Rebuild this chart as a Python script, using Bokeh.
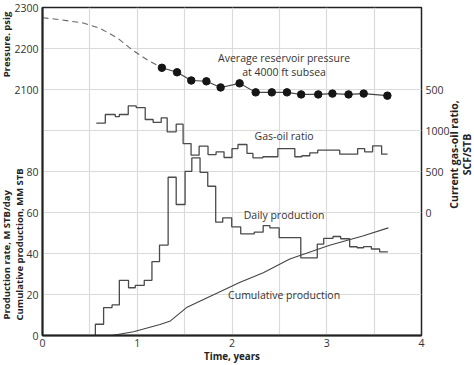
import math
from bokeh.plotting import figure
from bokeh.models import Range1d, LinearAxis, FixedTicker, Label, GridBox
from bokeh.embed import file_html
from bokeh.resources import INLINE

# ---------------- data ----------------
# average reservoir pressure (psig) -- dashed estimated part and measured points
press_curve_t = [0.0, 0.2, 0.43, 0.6, 0.79, 0.95, 1.1, 1.26]
press_curve_p = [2275, 2270, 2262, 2250, 2226, 2196, 2173, 2153]
press_t = [1.26, 1.42, 1.57, 1.73, 1.88, 2.08, 2.25, 2.42, 2.58, 2.73, 2.91, 3.06, 3.23, 3.39, 3.64]
press_p = [2153, 2142, 2122, 2120, 2105, 2115, 2093, 2093, 2093, 2088, 2088, 2090, 2088, 2090, 2085]

# gas-oil ratio (SCF/STB), monthly steps (start times)
gor_t = [0.568, 0.663, 0.768, 0.811, 0.905, 0.989, 1.084, 1.168, 1.253, 1.316, 1.411, 1.484,
         1.568, 1.653, 1.747, 1.832, 1.916, 2.0, 2.063, 2.158, 2.221, 2.326, 2.484, 2.663,
         2.737, 2.821, 2.905, 3.137, 3.326, 3.4, 3.484, 3.579]
gor_v = [1090, 1195, 1170, 1195, 1300, 1280, 1134, 1098, 1155, 984, 1077, 841,
         699, 809, 707, 740, 671, 780, 829, 720, 667, 680, 780, 680,
         692, 728, 760, 711, 780, 740, 813, 711]
gor_end = 3.642

# daily production (M STB/day), steps (start times)
rate_t = [0.558, 0.645, 0.734, 0.811, 0.908, 0.979, 1.074, 1.155, 1.235, 1.326, 1.411, 1.505,
          1.576, 1.663, 1.744, 1.828, 1.902, 1.997, 2.092, 2.235, 2.329, 2.4, 2.498, 2.726,
          2.9, 2.968, 3.066, 3.147, 3.242, 3.321, 3.389, 3.471, 3.558]
rate_v = [5.5, 13.6, 14.9, 26.9, 23.3, 24.5, 26.9, 36.0, 44.1, 77.2, 63.9, 80.1,
          86.6, 79.6, 72.8, 55.3, 57.4, 53.0, 49.6, 50.4, 53.6, 52.5, 47.7, 37.9,
          44.6, 47.4, 48.3, 47.2, 43.3, 42.8, 43.4, 42.2, 40.8]
rate_end = 3.645

# cumulative production (MM STB)
cum_t = [0.73, 0.96, 1.24, 1.35, 1.52, 1.80, 2.08, 2.33, 2.61, 3.03, 3.38, 3.65]
cum_v = [0, 1.8, 5.4, 7.1, 13.6, 19.8, 25.8, 30.6, 37.3, 44.0, 48.5, 52.5]

x_ticks = [0, 1, 2, 3, 4]
left_ticks = [0, 20, 40, 60, 80, 120, 140, 160]
left_labels = {120: "2100", 140: "2200", 160: "2300"}
gor_ticks = [0, 500, 1000, 1500]
gor_labels = {1500: "500"}

FONT = "Open Sans"
INK = "#333333"
DARK = "#222222"
LINE = "#4a4a4a"
W, H = 474, 365

# ---------------- main figure ----------------
p = figure(width=W, height=H, output_backend="svg", toolbar_location=None,
           x_range=Range1d(0, 4), y_range=Range1d(0, 160),
           min_border_left=42, min_border_right=53, min_border_top=7, min_border_bottom=30)
p.extra_y_ranges = {"press": Range1d(1500, 2300), "gor": Range1d(-1500, 2500)}

p.background_fill_color = "white"
p.border_fill_color = "white"
p.outline_line_color = DARK
p.outline_line_width = 1.5

p.xgrid.ticker = FixedTicker(ticks=[0.5, 1, 1.5, 2, 2.5, 3, 3.5])
p.ygrid.ticker = FixedTicker(ticks=[20, 40, 60, 80, 100, 120, 140])
for g in (p.xgrid, p.ygrid):
    g.grid_line_color = "#dadada"
    g.grid_line_width = 1.2

xa = p.xaxis[0]
xa.ticker = FixedTicker(ticks=x_ticks)
xa.axis_label = "Time, years"
ya = p.yaxis[0]
ya.ticker = FixedTicker(ticks=left_ticks)
ya.major_label_overrides = left_labels

ra = LinearAxis(y_range_name="gor", ticker=FixedTicker(ticks=gor_ticks))
ra.major_label_overrides = gor_labels
p.add_layout(ra, "right")

for ax in (xa, ya, ra):
    ax.major_tick_line_color = None
    ax.minor_tick_line_color = None
    ax.major_tick_in = 0
    ax.major_tick_out = 0
    ax.major_label_text_font = FONT
    ax.major_label_text_font_size = "10.5px"
    ax.major_label_text_color = INK
    ax.major_label_standoff = 4
    ax.axis_line_color = DARK
    ax.axis_line_width = 2
ra.axis_line_color = None
xa.axis_label_text_font = FONT
xa.axis_label_text_font_size = "9.8px"
xa.axis_label_text_font_style = "bold"
xa.axis_label_text_color = DARK
xa.axis_label_standoff = 0
xa.major_label_standoff = 3

p.line(press_curve_t, press_curve_p, y_range_name="press", line_color="#666666",
       line_width=1.1, line_dash="6 4")
p.line(press_t, press_p, y_range_name="press", line_color="#444444", line_width=1.1)
p.scatter(press_t, press_p, y_range_name="press", size=7.5, fill_color="#151515",
          line_color="#151515")

p.step(gor_t + [gor_end], gor_v + [gor_v[-1]], mode="after", y_range_name="gor",
       line_color=LINE, line_width=1.3)
p.step([rate_t[0]] + rate_t + [rate_end], [0] + rate_v + [rate_v[-1]], mode="after",
       line_color=LINE, line_width=1.3)
p.line(cum_t, cum_v, line_color="#444444", line_width=1.1)


def txt(fig, x, y, s, size="10.5px", bold=False, angle=0.0, align="center"):
    fig.add_layout(Label(x=x, y=y, text=s, text_font=FONT, text_font_size=size,
                         text_font_style="bold" if bold else "normal",
                         text_color=DARK if bold else INK,
                         text_align=align, text_baseline="middle", angle=angle))

txt(p, 2.55, 135.2, "Average reservoir pressure")
txt(p, 2.55, 128.7, "at 4000 ft subsea")
txt(p, 2.55, 97.3, "Gas-oil ratio")
txt(p, 2.55, 59.0, "Daily production")
txt(p, 2.55, 19.6, "Cumulative production")

# ---------------- overlay for the outer axis titles (page pixels) ----------------
ov = figure(width=W, height=H, output_backend="svg", toolbar_location=None,
            x_range=Range1d(0, W), y_range=Range1d(H, 0),
            x_axis_location=None, y_axis_location=None,
            min_border_left=0, min_border_right=0, min_border_top=0, min_border_bottom=0)
ov.grid.visible = False
ov.outline_line_color = None
ov.background_fill_alpha = 0
ov.border_fill_alpha = 0
for fig in (p, ov):
    if "frame_align" in fig.properties():
        fig.frame_align = False

V = math.pi / 2
txt(ov, 6, 44, "Pressure. psig", size="9.5px", bold=True, angle=V)
txt(ov, 6, 319, "Production rate, M STB/day", size="9.5px", bold=True, angle=V, align="left")
txt(ov, 18.5, 320, "Cumulative production, MM STB", size="9.5px", bold=True, angle=V, align="left")
txt(ov, 453, 154, "Current gas-oil ratio,", size="10.5px", bold=True, angle=V)
txt(ov, 466, 154, "SCF/STB", size="10.5px", bold=True, angle=V)

layout = GridBox(children=[(p, 0, 0), (ov, 0, 0)])
open("out.html", "w").write(file_html(layout, INLINE))
